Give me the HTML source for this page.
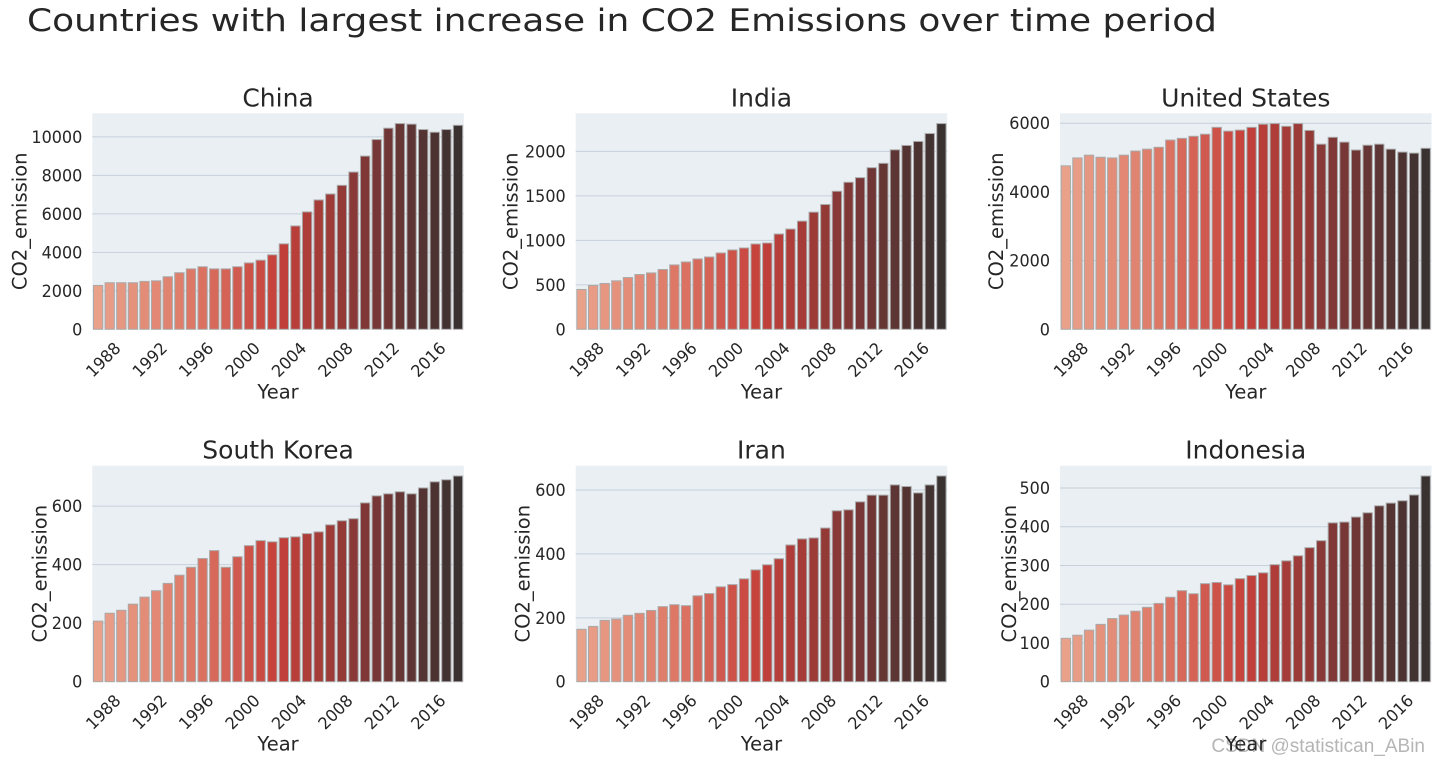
<!DOCTYPE html>
<html><head><meta charset="utf-8"><style>
html,body{margin:0;padding:0;background:#fff;}
svg{display:block;font-family:"DejaVu Sans","Liberation Sans",sans-serif;}
</style></head><body>
<svg id="fig" width="1439" height="762" viewBox="0 0 1439 762" xmlns="http://www.w3.org/2000/svg">
<text x="622" y="31" text-anchor="middle" font-size="31" fill="#262626" textLength="1190" lengthAdjust="spacingAndGlyphs">Countries with largest increase in CO2 Emissions over time period</text>
<text x="1425" y="752" text-anchor="end" font-size="19" fill="#b5b5b5" font-family="Liberation Sans, sans-serif">CSDN @statistican_ABin</text>
</svg>
<script>
const years = [1987,1988,1989,1990,1991,1992,1993,1994,1995,1996,1997,1998,1999,2000,2001,2002,2003,2004,2005,2006,2007,2008,2009,2010,2011,2012,2013,2014,2015,2016,2017,2018];
const tickYears = [1988,1992,1996,2000,2004,2008,2012,2016];
const countryNames = ["China","India","United States","South Korea","Iran","Indonesia"];
const chinaValues = [2280,2420,2420,2420,2490,2520,2730,2940,3140,3250,3140,3140,3250,3450,3590,3870,4440,5370,6100,6720,7030,7480,8170,9000,9860,10450,10690,10660,10380,10240,10380,10600];
const indiaValues = [448,493,515,545,582,616,634,672,724,757,791,813,858,892,914,959,970,1071,1127,1216,1317,1403,1552,1653,1705,1817,1866,2018,2067,2112,2201,2313];
const usValues = [4760,4990,5070,5010,4990,5070,5190,5245,5300,5510,5560,5620,5680,5880,5770,5800,5880,5970,5990,5910,5990,5790,5390,5590,5450,5220,5360,5390,5245,5160,5130,5270];
const koreaValues = [207,234,244,265,289,311,336,364,391,421,448,391,427,465,482,478,492,495,506,512,536,550,557,611,635,642,649,642,662,683,690,703];
const iranValues = [164,173,192,196,208,214,223,235,241,238,269,276,297,304,322,350,366,385,428,447,450,481,535,538,563,584,584,616,611,591,616,644];
const indonesiaValues = [112,120,133,148,163,172,182,192,202,218,235,227,253,256,250,266,274,281,302,312,325,346,364,410,412,425,436,454,461,467,482,531];
const yTicksChina = [0,2000,4000,6000,8000,10000];
const yTicksIndia = [0,500,1000,1500,2000];
const yTicksUS = [0,2000,4000,6000];
const yTicksKorea = [0,200,400,600];
const yTicksIran = [0,200,400,600];
const yTicksIndonesia = [0,100,200,300,400,500];

const NS = "http://www.w3.org/2000/svg";
const svg = document.getElementById("fig");
function mk(tag, attrs, parent){
  const e = document.createElementNS(NS, tag);
  for (const k in attrs) e.setAttribute(k, attrs[k]);
  (parent||svg).appendChild(e); return e;
}
const stops = [[0,[233,161,138]],[0.25,[222,122,104]],[0.5,[197,64,58]],[0.75,[126,56,54]],[1,[58,49,49]]];
function color(t){
  for (let i=0;i<stops.length-1;i++){
    const a=stops[i], b=stops[i+1];
    if (t<=b[0]){ const f=(t-a[0])/(b[0]-a[0]);
      return "rgb("+a[1].map((v,j)=>Math.round(v+(b[1][j]-v)*f)).join(",")+")"; }
  }
  return "rgb(58,49,49)";
}
const DIGIT = 10.18;
const panels = [
  {vals: chinaValues, ticks: yTicksChina, x0:92.3, y0:113.3, lab:66},
  {vals: indiaValues, ticks: yTicksIndia, x0:575.7, y0:113.3, lab:58},
  {vals: usValues, ticks: yTicksUS, x0:1060, y0:113.3, lab:57},
  {vals: koreaValues, ticks: yTicksKorea, x0:92.3, y0:465.7, lab:46},
  {vals: iranValues, ticks: yTicksIran, x0:575.7, y0:465.7, lab:46},
  {vals: indonesiaValues, ticks: yTicksIndonesia, x0:1060, y0:465.7, lab:44}
];
const W = 371.5, H = 216;
panels.forEach((p, pi) => {
  const g = mk("g", {});
  
  
  const ymax = Math.max(...p.vals) * 1.05;
  const yScale = v => p.y0 + H - v / ymax * H;
  const n = years.length, bw = W / n;
  const xScale = i => p.x0 + (i + 0.5) * bw;
  const bg = mk("rect", {x:p.x0, y:p.y0, width:W, height:H, fill:"#eaeff3"}, g);
  
  
  p.ticks.forEach(t => {
    const y = yScale(t);
    if (t > 0) {
      const gl = mk("line", {x1:p.x0, x2:p.x0+W, y1:y, y2:y, stroke:"#c5d0db", "stroke-width":1}, g);
      
      
    }
    const s = String(t);
    const tl = mk("text", {x:p.x0-10, y:y+6, "text-anchor":"end", "font-size":16.5, textLength:(s.length*DIGIT).toFixed(1), lengthAdjust:"spacingAndGlyphs", fill:"#262626"}, g);
    tl.textContent = s;
    
    
  });
  p.vals.forEach((v, i) => {
    const y = yScale(v);
    const r = mk("rect", {x:xScale(i)-bw*0.4, y:y, width:bw*0.8, height:p.y0+H-y, fill:color(i/(n-1)), stroke:"#a9a9a9", "stroke-width":1}, g);
    
    
  });
  tickYears.forEach(yr => {
    const i = years.indexOf(yr);
    const tx = xScale(i) + 12, ty = p.y0 + H + 20;
    const t = mk("text", {x:tx, y:ty, "text-anchor":"end", "font-size":16.5, textLength:(4*DIGIT).toFixed(1), lengthAdjust:"spacingAndGlyphs", fill:"#262626", transform:"rotate(-45 "+tx+" "+ty+")"}, g);
    t.textContent = yr;
    
    
  });
  const title = mk("text", {x:p.x0+W/2, y:p.y0-7, "text-anchor":"middle", "font-size":25, fill:"#262626"}, g);
  title.textContent = countryNames[pi];
  
  
  const xl = mk("text", {x:p.x0+W/2, y:p.y0+H+69, "text-anchor":"middle", "font-size":19.5, fill:"#262626"}, g);
  xl.textContent = "Year";
  
  
  const lx = p.x0 - p.lab, ly = p.y0 + H/2;
  const yl = mk("text", {x:lx, y:ly, "text-anchor":"middle", "font-size":19.5, fill:"#262626", transform:"rotate(-90 "+lx+" "+ly+")"}, g);
  yl.textContent = "CO2_emission";
  
  
});
</script>
</body></html>
